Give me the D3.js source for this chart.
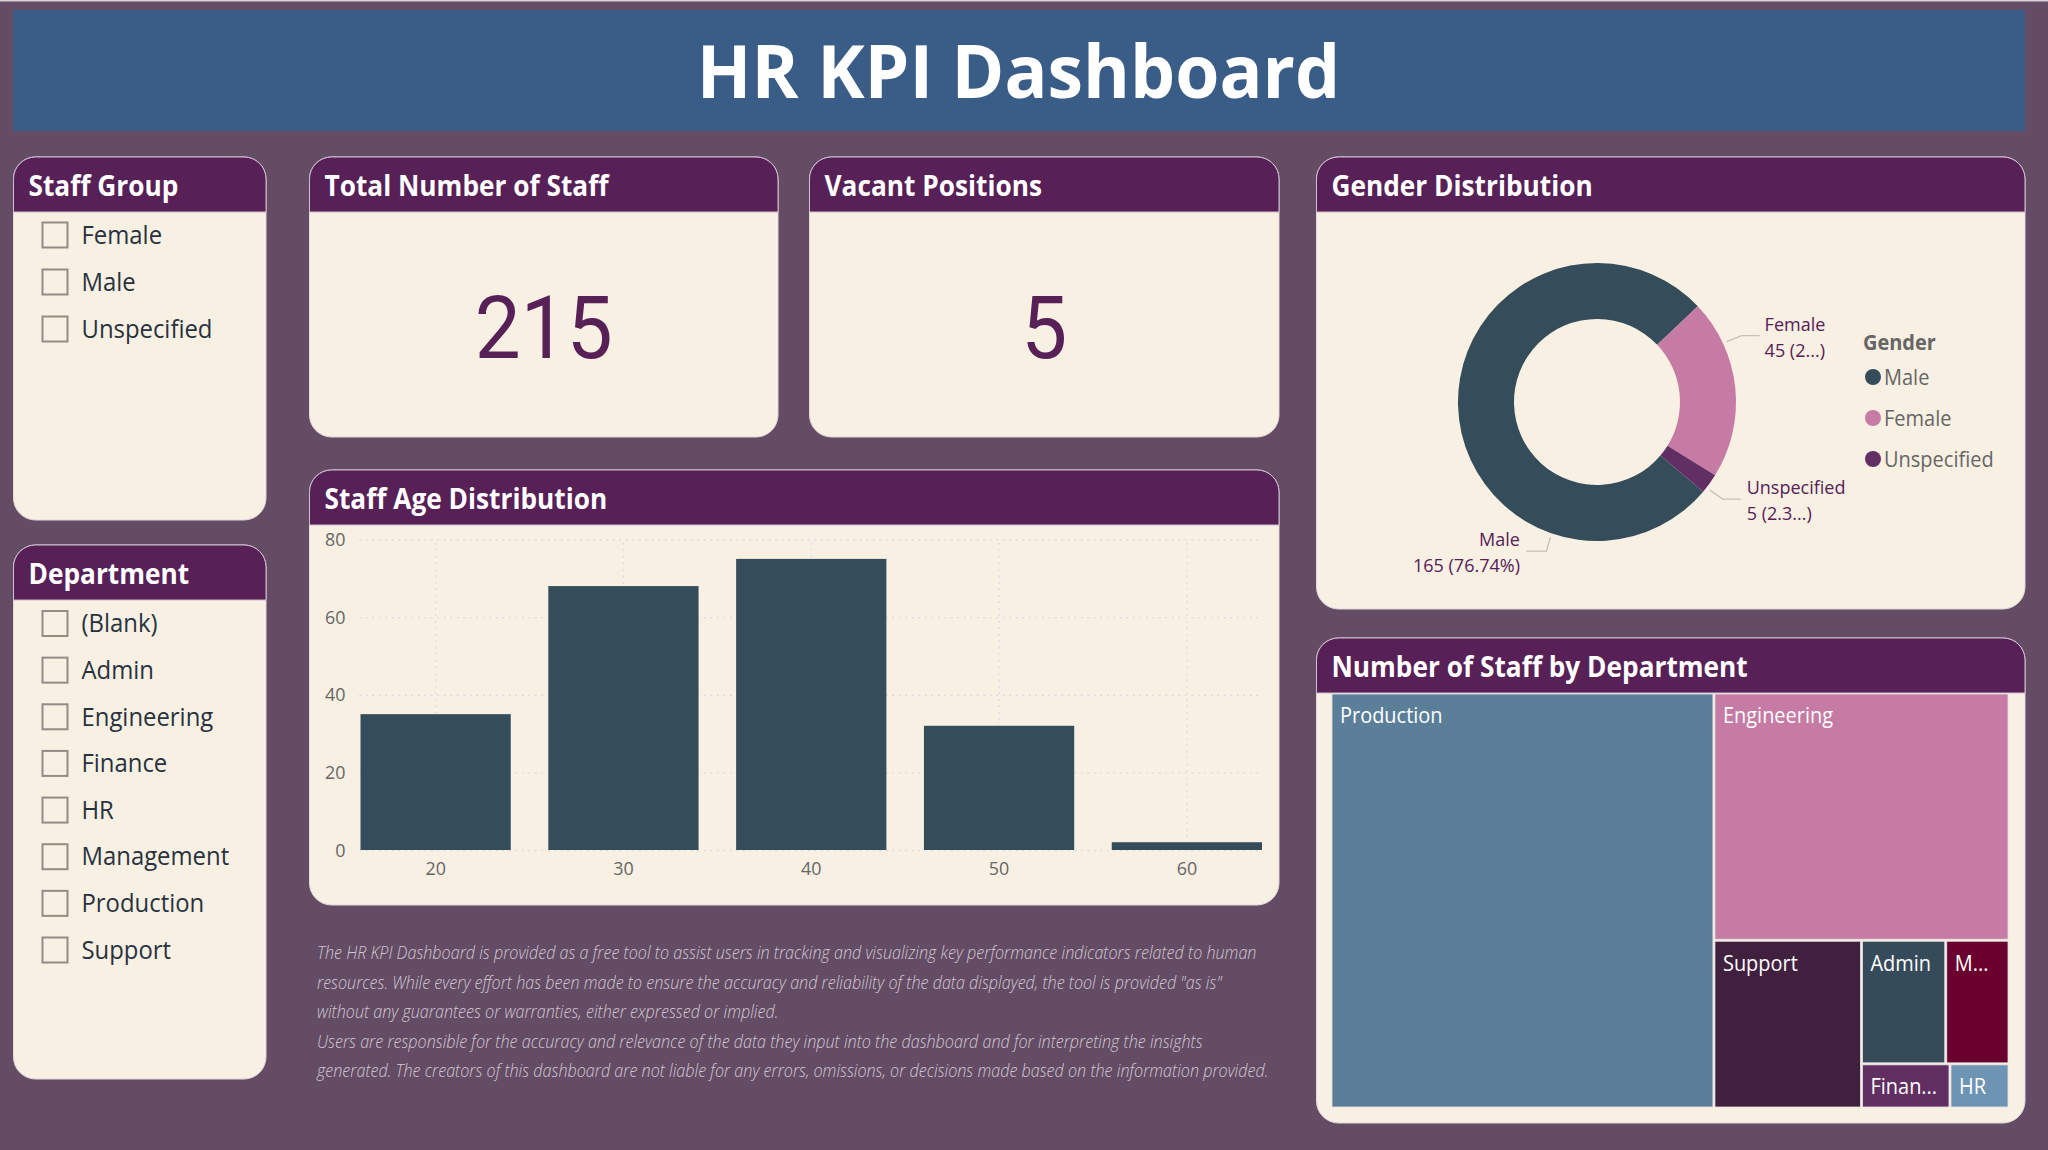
<!DOCTYPE html>
<html>
<head>
<meta charset="utf-8">
<title>HR KPI Dashboard</title>
<style>
  html, body { margin: 0; padding: 0; background: #644c64; }
  svg { display: block; }
  text { font-family: "Open Sans", sans-serif; }
</style>
</head>
<body>
<svg id="dash" width="2048" height="1150"></svg>
<script src="https://cdn.jsdelivr.net/npm/d3@7"></script>
<script>
// data
const dashboardTitle = 'HR KPI Dashboard';
const staffGroups = ['Female', 'Male', 'Unspecified'];
const departments = ['(Blank)', 'Admin', 'Engineering', 'Finance', 'HR', 'Management', 'Production', 'Support'];
const totalStaff = 215;
const vacantPositions = 5;

const ageBins = [20, 30, 40, 50, 60];
const ageCounts = [35, 68, 75, 32, 2];
const ageTicks = [0, 20, 40, 60, 80];

const genderNames = ['Male', 'Female', 'Unspecified'];
const genderCounts = [165, 45, 5];
const genderValueLabels = ['165 (76.74%)', '45 (2...)', '5 (2.3...)'];

const deptNames = ['Production', 'Engineering', 'Support', 'Admin', 'Management', 'Finance', 'HR'];
const deptCounts = [122, 56, 19, 8, 6, 3, 2];
const deptLabels = ['Production', 'Engineering', 'Support', 'Admin', 'M...', 'Finan...', 'HR'];

const disclaimer = [
  'The HR KPI Dashboard is provided as a free tool to assist users in tracking and visualizing key performance indicators related to human',
  'resources. While every effort has been made to ensure the accuracy and reliability of the data displayed, the tool is provided "as is"',
  'without any guarantees or warranties, either expressed or implied.',
  'Users are responsible for the accuracy and relevance of the data they input into the dashboard and for interpreting the insights',
  'generated. The creators of this dashboard are not liable for any errors, omissions, or decisions made based on the information provided.'
];

// colours
const cream = '#f8f0e3', plum = '#572057', edge = '#cdbfce';
const genderColor = d3.scaleOrdinal(genderNames, ['#354c5b', '#c57ba4', '#612f63']);
const deptColor = d3.scaleOrdinal(deptNames, ['#5c7f99', '#c57ba4', '#411f3f', '#354b5a', '#6a002e', '#612f61', '#6e94b4']);

const svg = d3.select('#dash');

// Open Sans runs wider than the font in the picture, so pull text in a bit
function squeeze(sel, k) {
  sel.each(function () {
    this.setAttribute('textLength', this.getComputedTextLength() * k);
    this.setAttribute('lengthAdjust', 'spacingAndGlyphs');
  });
  return sel;
}

function card(x, y, w, h, title) {
  const g = svg.append('g').attr('transform', `translate(${x},${y})`);
  const r = 22, head = 55;
  g.append('rect').attr('x', 0).attr('y', 0).attr('width', w).attr('height', h).attr('rx', r)
    .attr('fill', cream).attr('stroke', '#e2d9dd').attr('stroke-width', 1);
  const p = d3.path();
  p.moveTo(0, head); p.lineTo(0, r); p.arcTo(0, 0, r, 0, r); p.lineTo(w - r, 0);
  p.arcTo(w, 0, w, r, r); p.lineTo(w, head); p.closePath();
  g.append('path').attr('d', p.toString()).attr('fill', plum).attr('stroke', edge).attr('stroke-width', 1);
  g.append('text').attr('x', 15).attr('y', 28.5).attr('dy', '0.35em')
    .attr('font-size', 29).attr('font-weight', 700).attr('fill', '#fff')
    .text(title).call(squeeze, 0.905);
  return g;
}

function slicer(g, items, rowY) {
  const row = g.selectAll('g.item').data(items).join('g').attr('class', 'item')
    .attr('transform', (d, i) => `translate(0,${rowY(i)})`);
  row.append('rect').attr('x', 29).attr('y', -12.5).attr('width', 25).attr('height', 25)
    .attr('fill', 'none').attr('stroke', '#918c86').attr('stroke-width', 2);
  row.append('text').attr('x', 68).attr('dy', '0.35em').attr('font-size', 25).attr('fill', '#28323e')
    .text(d => d).call(squeeze, 0.955);
}

// banner
svg.append('rect').attr('x', 0).attr('y', 0).attr('width', 2048).attr('height', 1.5).attr('fill', '#d9d2d9');
svg.append('rect').attr('x', 13).attr('y', 10).attr('width', 2012).attr('height', 121).attr('fill', '#3a5d87');
svg.append('text').attr('x', 1018.5).attr('y', 72).attr('dy', '0.35em').attr('text-anchor', 'middle')
  .attr('font-size', 74).attr('font-weight', 700).attr('fill', '#fff')
  .text(dashboardTitle).call(squeeze, 0.965);

// slicers
const groupCard = card(13.5, 157, 252.5, 363, 'Staff Group');
slicer(groupCard, staffGroups, d3.scaleLinear().domain([0, 2]).range([78, 172]));
const deptCard = card(13.5, 545, 252.5, 534, 'Department');
slicer(deptCard, departments, d3.scaleLinear().domain([0, 7]).range([78.5, 405]));

// KPI cards
function kpi(x, w, title, value) {
  const g = card(x, 157, w, 280, title);
  g.append('text').attr('x', w / 2).attr('y', 169).attr('dy', '0.36em').attr('text-anchor', 'middle')
    .style('font-family', 'Roboto').attr('font-size', 88).attr('font-weight', 400).attr('fill', plum)
    .text(value).call(squeeze, 0.93);
}
kpi(309.5, 468.5, 'Total Number of Staff', totalStaff);
kpi(809.5, 469.5, 'Vacant Positions', vacantPositions);

// age bars
const ageCard = card(309.5, 470, 969.5, 435, 'Staff Age Distribution');
const ageX = d3.scaleBand().domain(ageBins).range([51, 952.5]).paddingInner(0.2).paddingOuter(0);
const ageY = d3.scaleLinear().domain([0, 80]).range([380, 69.5]);
const yAxis = ageCard.append('g').attr('transform', 'translate(50,0)')
  .call(d3.axisLeft(ageY).tickValues(ageTicks).tickSize(-900).tickPadding(14));
const xAxis = ageCard.append('g').attr('transform', 'translate(0,380)')
  .call(d3.axisBottom(ageX).tickSize(-310.5).tickPadding(12));
[yAxis, xAxis].forEach(a => {
  a.select('.domain').remove();
  a.selectAll('line').attr('stroke', '#d8d4e4').attr('stroke-width', 1.3).attr('stroke-dasharray', '1.5 5');
  a.selectAll('text').attr('font-size', 19).attr('fill', '#666').call(squeeze, 0.94);
});
ageCard.selectAll('rect.bar').data(ageBins).join('rect').attr('class', 'bar')
  .attr('x', d => ageX(d)).attr('width', ageX.bandwidth())
  .attr('y', (d, i) => ageY(ageCounts[i])).attr('height', (d, i) => ageY(0) - ageY(ageCounts[i]))
  .attr('fill', '#354c5b');

// disclaimer
const noteY = d3.scaleLinear().domain([0, 4]).range([953, 1071]);
svg.selectAll('text.note').data(disclaimer).join('text').attr('class', 'note')
  .attr('x', 317).attr('y', (d, i) => noteY(i)).attr('dy', '0.35em')
  .attr('font-size', 17.5).attr('font-style', 'italic').attr('font-weight', 300).attr('fill', '#d2c7d2')
  .text(d => d).call(squeeze, 0.922);

// donut
const genderCard = card(1316.5, 157, 708.5, 452, 'Gender Distribution');
const donut = genderCard.append('g').attr('transform', 'translate(280.5,245)');
const deg = Math.PI / 180;
const pie = d3.pie().sort(null).startAngle(-229.8 * deg).endAngle(130.2 * deg);
const arcs = pie(genderCounts);
const arc = d3.arc().innerRadius(83).outerRadius(139);
donut.selectAll('path.slice').data(arcs).join('path').attr('class', 'slice')
  .attr('d', arc).attr('fill', (d, i) => genderColor(genderNames[i]));

// leader lines and their labels: start angle on the ring, elbow offsets, text offset
const leaderR = 143;
const leaders = [
  { angle: 199, elbow: [-4, 14], end: [-24, 14], tx: -30.5, ty: 8.5, anchor: 'end' },
  { angle: 65, elbow: [15, -6], end: [33, -6], tx: 38, ty: -11, anchor: 'start' },
  { angle: 128, elbow: [13, 9], end: [31, 9], tx: 37, ty: 3.5, anchor: 'start' }
];
leaders.forEach((l, i) => {
  const a = l.angle * deg, x0 = leaderR * Math.sin(a), y0 = -leaderR * Math.cos(a);
  donut.append('path').attr('fill', 'none').attr('stroke', '#c4bfb8').attr('stroke-width', 1.3)
    .attr('d', d3.line()([[x0, y0], [x0 + l.elbow[0], y0 + l.elbow[1]], [x0 + l.end[0], y0 + l.end[1]]]));
  const t = donut.append('text').attr('text-anchor', l.anchor).attr('fill', plum)
    .attr('font-size', 18);
  [genderNames[i], genderValueLabels[i]].forEach((s, j) => {
    t.append('tspan').attr('x', x0 + l.tx).attr('y', y0 + l.ty + j * 26).text(s);
  });
});

// gender legend
const legend = genderCard.append('g').attr('transform', 'translate(546.5,0)');
legend.append('text').attr('x', 0).attr('y', 186).attr('dy', '0.35em')
  .attr('font-size', 21).attr('font-weight', 700).attr('fill', '#666').text('Gender').call(squeeze, 0.95);
const legendY = d3.scaleLinear().domain([0, 2]).range([220, 302]);
const legendRow = legend.selectAll('g.row').data(genderNames).join('g').attr('class', 'row')
  .attr('transform', (d, i) => `translate(0,${legendY(i)})`);
legendRow.append('circle').attr('cx', 10).attr('r', 8).attr('fill', d => genderColor(d));
legendRow.append('text').attr('x', 21).attr('dy', '0.35em').attr('font-size', 21.5).attr('fill', '#666')
  .text(d => d).call(squeeze, 0.93);

// treemap
const treeCard = card(1316.5, 638, 708.5, 485, 'Number of Staff by Department');
const treeRoot = d3.hierarchy({ children: deptNames.map((n, i) => ({ name: n, label: deptLabels[i], value: deptCounts[i] })) })
  .sum(d => d.value);
d3.treemap().tile(d3.treemapSquarify).size([676, 413]).paddingInner(2)(treeRoot);
const treeG = treeCard.append('g').attr('transform', 'translate(15.5,56)');
const cell = treeG.selectAll('g').data(treeRoot.leaves()).join('g')
  .attr('transform', d => `translate(${d.x0},${d.y0})`);
cell.append('rect').attr('width', d => d.x1 - d.x0).attr('height', d => d.y1 - d.y0)
  .attr('fill', d => deptColor(d.data.name)).attr('stroke', '#e6e3e6').attr('stroke-width', 0.8);
cell.append('text').attr('x', 8).attr('y', 22).attr('dy', '0.35em').attr('font-size', 21).attr('fill', '#fff')
  .text(d => d.data.label).call(squeeze, 0.95);
</script>
</body>
</html>
